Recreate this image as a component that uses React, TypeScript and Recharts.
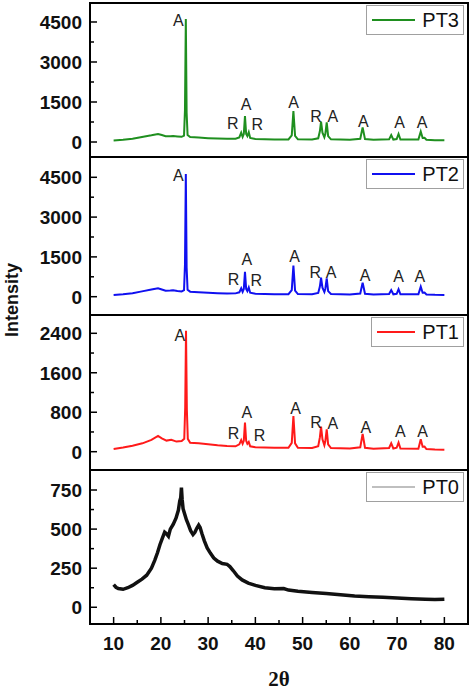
import { ComposedChart, Line, XAxis, YAxis, ReferenceArea, ReferenceDot } from "recharts";

type Pt = [number, number];
type Mark = [number, number, string];

// 2theta, intensity
const pt3: Pt[] = [
  [10, 60], [12, 85], [14, 120], [16, 190], [18, 250], [19.4, 300], [20.2, 260], [21, 215], [22, 215],
  [22.6, 225], [23.5, 210], [24.4, 195], [24.9, 240], [25.1, 1200], [25.28, 4610], [25.45, 1100], [25.65, 260],
  [26.2, 190], [28, 165], [30, 145], [32, 130], [34, 120], [35.8, 125], [36.6, 170], [37.0, 350], [37.3, 190],
  [37.55, 300], [37.8, 975], [38.05, 300], [38.3, 220], [38.6, 370], [38.9, 150], [40, 110], [44, 95], [47, 95],
  [47.7, 250], [48.05, 1160], [48.4, 230], [49, 100], [52, 95], [53.3, 140], [53.65, 400], [53.9, 760],
  [54.2, 350], [54.6, 180], [54.8, 300], [55.1, 740], [55.4, 220], [56, 100], [60, 85], [62.2, 120],
  [62.7, 550], [63.2, 110], [65, 85], [68.3, 100], [68.75, 260], [69.2, 90], [69.9, 110], [70.3, 300],
  [70.7, 90], [74.5, 90], [75.0, 390], [75.4, 150], [75.8, 160], [76.2, 85], [78, 70], [80, 65],
];

const pt2: Pt[] = [
  [10, 65], [12, 90], [14, 130], [16, 200], [18, 270], [19.4, 315], [20.2, 270], [21, 225], [22, 230],
  [22.6, 240], [23.5, 215], [24.4, 200], [24.9, 245], [25.1, 1200], [25.28, 4625], [25.45, 1100], [25.65, 260],
  [26.2, 190], [28, 165], [30, 145], [32, 130], [34, 120], [35.8, 125], [36.6, 165], [37.0, 315], [37.3, 185],
  [37.55, 290], [37.8, 940], [38.05, 290], [38.3, 210], [38.6, 350], [38.9, 150], [40, 110], [44, 95], [47, 95],
  [47.7, 250], [48.05, 1170], [48.4, 230], [49, 100], [52, 95], [53.3, 140], [53.65, 380], [53.9, 720],
  [54.2, 340], [54.6, 180], [54.8, 290], [55.1, 690], [55.4, 210], [56, 100], [60, 85], [62.2, 120],
  [62.7, 530], [63.2, 110], [65, 85], [68.3, 100], [68.75, 250], [69.2, 90], [69.9, 110], [70.3, 280],
  [70.7, 90], [74.5, 90], [75.0, 380], [75.4, 150], [75.8, 155], [76.2, 85], [78, 70], [80, 65],
];

const pt1: Pt[] = [
  [10, 55], [12, 85], [14, 120], [16.1, 170], [18, 240], [19.4, 320], [20.2, 270], [21.2, 225], [22.2, 240],
  [23.3, 205], [24.4, 215], [24.95, 260], [25.15, 900], [25.32, 2450], [25.5, 850], [25.7, 260], [26.2, 180],
  [28, 170], [30, 150], [32, 130], [34, 115], [35.8, 110], [36.6, 150], [37.0, 235], [37.3, 160], [37.55, 220],
  [37.8, 590], [38.05, 220], [38.3, 160], [38.6, 200], [38.9, 110], [40, 90], [44, 80], [47, 80], [47.7, 180],
  [48.05, 720], [48.4, 170], [49, 80], [52, 75], [53.3, 110], [53.65, 290], [53.9, 510], [54.2, 250],
  [54.6, 130], [54.8, 210], [55.1, 455], [55.4, 150], [56, 75], [60, 65], [62.2, 90], [62.7, 360], [63.2, 80],
  [65, 60], [68.3, 75], [68.75, 170], [69.2, 65], [69.9, 80], [70.3, 185], [70.7, 65], [74.5, 60],
  [75.0, 250], [75.4, 100], [75.8, 105], [76.2, 55], [78, 45], [80, 40],
];

const pt0: Pt[] = [
  [10, 145], [10.5, 128], [11, 120], [12, 115], [13, 125], [14, 140], [15, 160], [16, 180], [17, 205],
  [18, 250], [18.7, 300], [19.3, 350], [19.8, 400], [20.3, 440], [20.8, 480], [21.2, 470], [21.6, 455],
  [22, 500], [22.6, 530], [23.2, 570], [23.7, 620], [24.0, 680], [24.2, 700], [24.35, 765], [24.5, 690],
  [24.7, 630], [25.0, 600], [25.4, 560], [25.8, 530], [26.3, 490], [26.8, 465], [27.2, 480], [27.6, 505],
  [28.0, 525], [28.3, 510], [28.7, 470], [29.2, 425], [29.8, 380], [30.5, 345], [31.2, 315], [32, 295],
  [33, 280], [34, 275], [34.6, 260], [35.3, 235], [36.2, 200], [37.2, 175], [38.5, 155], [40, 140],
  [42, 125], [44, 118], [46, 120], [47, 110], [49, 103], [52, 95], [55, 88], [58, 80], [61, 72], [64, 68],
  [67, 64], [70, 60], [73, 55], [76, 52], [78, 50], [80, 52],
];

// phase labels: 2theta, intensity (text baseline), letter
const pt3Marks: Mark[] = [
  [23.7, 4350, "A"], [35.2, 476, "R"], [38.05, 1200, "A"], [40.4, 450, "R"], [48.1, 1264, "A"],
  [52.85, 763, "R"], [56.4, 738, "A"], [62.85, 550, "A"], [70.5, 538, "A"], [75.3, 538, "A"],
];
const pt2Marks: Mark[] = [
  [23.7, 4372, "A"], [35.4, 441, "R"], [38.2, 1195, "A"], [40.2, 403, "R"], [48.3, 1319, "A"],
  [52.7, 716, "R"], [56.0, 716, "A"], [63.2, 603, "A"], [70.3, 565, "A"], [74.8, 565, "A"],
];
const pt1Marks: Mark[] = [
  [24.0, 2250, "A"], [35.4, 251, "R"], [38.2, 689, "A"], [40.9, 223, "R"], [48.5, 764, "A"],
  [52.85, 474, "R"], [56.4, 454, "A"], [63.4, 373, "A"], [70.7, 304, "A"], [75.4, 292, "A"],
];

const xTicks = [10, 15, 20, 25, 30, 35, 40, 45, 50, 55, 60, 65, 70, 75, 80];
const pt3Ticks = [0, 750, 1500, 2250, 3000, 3750, 4500];
const pt1Ticks = [0, 400, 800, 1200, 1600, 2000, 2400];
const pt0Ticks = [0, 125, 250, 375, 500, 625, 750];

const FONT = "'Liberation Sans', Arial, sans-serif";

type PanelProps = {
  top: number;
  bottom: number;
  data: Pt[];
  color: string;
  legendColor: string;
  lineW: number;
  legendW: number;
  name: string;
  domain: [number, number];
  yTicks: number[];
  marks: Mark[];
  last?: boolean;
};

function Panel({ top, bottom, data, color, legendColor, lineW, legendW, name, domain, yTicks, marks, last }: PanelProps) {
  const rows = data.map(([x, y]) => ({ x, y }));
  const xH = last ? 66 : 0;
  const h = bottom - top + 2 + (last ? xH : 2);

  const xTick = (p: any) => {
    const v = p.payload.value;
    const major = v % 10 === 0;
    return (
      <g>
        <line x1={p.x} x2={p.x} y1={p.y} y2={p.y - (major ? 7 : 4)} stroke="#000" strokeWidth={1.5} />
        {last && major && (
          <text x={p.x} y={p.y + 26} textAnchor="middle" fontSize={19} fontWeight="bold" fontFamily={FONT} fill="#111">
            {v}
          </text>
        )}
      </g>
    );
  };

  const yTick = (p: any) => {
    const idx = yTicks.indexOf(p.payload.value);
    const major = idx % 2 === 0;
    return (
      <g>
        <line x1={p.x} x2={p.x + (major ? 7 : 4)} y1={p.y} y2={p.y} stroke="#000" strokeWidth={1.5} />
        {major && (
          <text x={p.x - 8} y={p.y + 7} textAnchor="end" fontSize={19} fontWeight="bold" fontFamily={FONT} fill="#111">
            {p.payload.value}
          </text>
        )}
      </g>
    );
  };

  return (
    <div style={{ position: "absolute", left: 0, top: top - 2, width: 474, height: h }}>
      <ComposedChart width={474} height={h} margin={{ top: 2, right: 6, bottom: last ? 0 : 2, left: 0 }}>
        <XAxis
          type="number"
          dataKey="x"
          domain={[5, 85]}
          allowDataOverflow
          ticks={xTicks}
          interval={0}
          height={xH}
          tickSize={0}
          tickMargin={0}
          axisLine={false}
          tickLine={false}
          tick={xTick}
          label={last ? { value: "2θ", position: "insideBottom", offset: 4, fontSize: 21, fontWeight: "bold", fontFamily: "'Liberation Serif', serif", fill: "#111" } : undefined}
        />
        <YAxis
          type="number"
          domain={domain}
          allowDataOverflow
          ticks={yTicks}
          interval={0}
          width={90}
          tickSize={0}
          tickMargin={0}
          axisLine={false}
          tickLine={false}
          tick={yTick}
        />
        <ReferenceArea x1={5} x2={85} y1={domain[0]} y2={domain[1]} fill="none" stroke="#000" strokeWidth={2} ifOverflow="visible" />
        <Line data={rows} dataKey="y" type="linear" stroke={color} strokeWidth={lineW} dot={false} isAnimationActive={false} />
        {marks.map(([x, y, t], i) => (
          <ReferenceDot
            key={i}
            x={x}
            y={y}
            r={0}
            ifOverflow="visible"
            shape={(p: any) => (
              <text x={p.cx} y={p.cy} textAnchor="middle" fontSize={16} fontFamily={FONT} fill="#222">
                {t}
              </text>
            )}
          />
        ))}
      </ComposedChart>
      <div
        style={{
          position: "absolute",
          right: 10,
          top: 4,
          height: 30,
          boxSizing: "border-box",
          border: "1px solid #a0a0a0",
          background: "#fff",
          display: "flex",
          alignItems: "center",
          padding: "0 4px 0 5px",
        }}
      >
        <svg width={legendW} height={4}>
          <line x1={0} x2={legendW} y1={2} y2={2} stroke={legendColor} strokeWidth={last ? 1.2 : 2} />
        </svg>
        <span style={{ marginLeft: 7, fontSize: 20, fontFamily: FONT, color: "#111" }}>{name}</span>
      </div>
    </div>
  );
}

export default function App() {
  return (
    <div style={{ position: "absolute", left: 0, top: 0, width: 474, height: 690, background: "#fff" }}>
      <Panel top={3} bottom={157} data={pt3} color="#1f8f1f" legendColor="#1f8f1f" lineW={2} legendW={43} name="PT3" domain={[-562, 5212]} yTicks={pt3Ticks} marks={pt3Marks} />
      <Panel top={157} bottom={315} data={pt2} color="#1010f0" legendColor="#1010f0" lineW={2} legendW={43} name="PT2" domain={[-690, 5265]} yTicks={pt3Ticks} marks={pt2Marks} />
      <Panel top={315} bottom={470} data={pt1} color="#ff1a1a" legendColor="#ff1a1a" lineW={2} legendW={38} name="PT1" domain={[-371, 2771]} yTicks={pt1Ticks} marks={pt1Marks} />
      <Panel top={470} bottom={624} data={pt0} color="#111" legendColor="#808080" lineW={3.5} legendW={43} name="PT0" domain={[-107, 878]} yTicks={pt0Ticks} marks={[]} last />
      <div
        style={{
          position: "absolute",
          left: 12,
          top: 300,
          transform: "translate(-50%, -50%) rotate(-90deg)",
          fontSize: 18,
          fontWeight: "bold",
          fontFamily: FONT,
          color: "#111",
          whiteSpace: "nowrap",
        }}
      >
        Intensity
      </div>
    </div>
  );
}
